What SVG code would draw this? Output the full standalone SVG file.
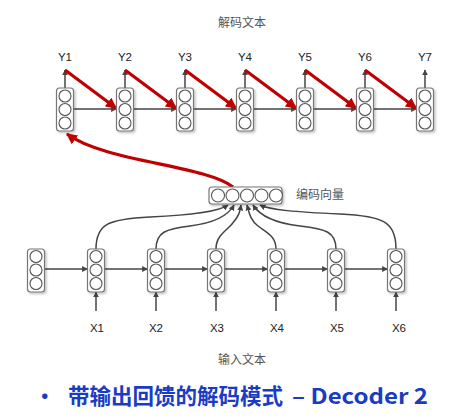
<svg xmlns="http://www.w3.org/2000/svg" width="474" height="420" viewBox="0 0 474 420">
<defs>
<marker id="ab" viewBox="0 0 10 10" refX="9" refY="5" markerWidth="6" markerHeight="6" orient="auto" markerUnits="userSpaceOnUse"><path d="M0,0 L10,5 L0,10 z" fill="#444"/></marker>
<marker id="ar" viewBox="0 0 10 10" refX="9" refY="5" markerWidth="11" markerHeight="11" orient="auto" markerUnits="userSpaceOnUse"><path d="M0,0 L10,5 L0,10 z" fill="#c00000"/></marker>
<filter id="sh" x="-30%" y="-30%" width="160%" height="160%"><feDropShadow dx="1.5" dy="1.5" stdDeviation="1" flood-color="#000" flood-opacity="0.25"/></filter>
</defs>
<style>
.nd{fill:#fff;stroke:#777;stroke-width:1.2;filter:url(#sh)}
.c{fill:#fff;stroke:#555;stroke-width:1.1}
.bl{fill:none;stroke:#444;stroke-width:1.5;marker-end:url(#ab)}
.rd{fill:none;stroke:#c00000;stroke-width:3.2;marker-end:url(#ar)}
.lb{font-family:"Liberation Sans",Arial,sans-serif;font-size:11.5px;fill:#222;text-anchor:middle}
.cap{font-family:"Noto Sans CJK SC",sans-serif;font-size:12px;fill:#555;text-anchor:middle}
.ttl{font-family:"Noto Sans CJK SC",sans-serif;font-size:21.5px;font-weight:bold;fill:#1a3cc4}
</style>
<rect width="474" height="420" fill="#fff"/>
<text class="cap" x="242" y="27">解码文本</text>
<text class="cap" x="320" y="199">编码向量</text>
<text class="cap" x="242" y="364">输入文本</text>
<text class="ttl" x="34" y="404">•</text>
<text class="ttl" x="68" y="404">带输出回馈的解码模式 <tspan x="292" textLength="136" lengthAdjust="spacingAndGlyphs">– Decoder 2</tspan></text>
<g id="labels">
<text class="lb" x="65" y="61">Y1</text><text class="lb" x="125" y="61">Y2</text><text class="lb" x="185" y="61">Y3</text><text class="lb" x="245" y="61">Y4</text><text class="lb" x="305" y="61">Y5</text><text class="lb" x="365" y="61">Y6</text><text class="lb" x="425" y="61">Y7</text>
<text class="lb" x="97" y="332">X1</text><text class="lb" x="156" y="332">X2</text><text class="lb" x="217" y="332">X3</text><text class="lb" x="277" y="332">X4</text><text class="lb" x="337" y="332">X5</text><text class="lb" x="399" y="332">X6</text>
</g>
<g id="connectors">
<path class="bl" d="M65,88 V70"/><path class="bl" d="M125,88 V70"/><path class="bl" d="M185,88 V70"/><path class="bl" d="M245,88 V70"/><path class="bl" d="M305,88 V70"/><path class="bl" d="M365,88 V70"/><path class="bl" d="M425,88 V70"/>
<path class="bl" d="M73.5,109 H116.5"/><path class="bl" d="M133.5,109 H176.5"/><path class="bl" d="M193.5,109 H236.5"/><path class="bl" d="M253.5,109 H296.5"/><path class="bl" d="M313.5,109 H356.5"/><path class="bl" d="M373.5,109 H416.5"/>
<path class="bl" d="M44.5,269 H87.5"/><path class="bl" d="M104.5,269 H147.5"/><path class="bl" d="M164.5,269 H207.5"/><path class="bl" d="M224.5,269 H267.5"/><path class="bl" d="M284.5,269 H327.5"/><path class="bl" d="M344.5,269 H387.5"/>
<path class="bl" d="M96,311 V292"/><path class="bl" d="M156,311 V292"/><path class="bl" d="M216,311 V292"/><path class="bl" d="M276,311 V292"/><path class="bl" d="M336,311 V292"/><path class="bl" d="M396,311 V292"/>
<path class="bl" d="M96,249 C96,224 108,219 150,217 S218,212 228,205"/>
<path class="bl" d="M156,249 C156,232 166,229 190,226 S228,216 234,205"/>
<path class="bl" d="M216,249 C216,236 225,232 232,224 S240,212 241,205"/>
<path class="bl" d="M276,249 C276,236 266,232 258,226 S249,212 247,205"/>
<path class="bl" d="M336,249 C336,232 326,229 300,226 S260,216 253,205"/>
<path class="bl" d="M396,249 C396,222 384,216 340,214 S270,210 260,205"/>
<path class="rd" d="M65,70 L116,108"/><path class="rd" d="M125,70 L176,108"/><path class="rd" d="M185,70 L236,108"/><path class="rd" d="M245,70 L296,108"/><path class="rd" d="M305,70 L356,108"/><path class="rd" d="M365,70 L416,108"/>
<path class="rd" d="M233,187 C205,165 105,162 67,134"/>
</g>
<g id="dec1"><rect class="nd" x="56.5" y="88" width="17" height="43" rx="3"/><circle class="c" cx="65" cy="96" r="6"/><circle class="c" cx="65" cy="109.5" r="6"/><circle class="c" cx="65" cy="123" r="6"/></g>
<g id="dec2"><rect class="nd" x="116.5" y="88" width="17" height="43" rx="3"/><circle class="c" cx="125" cy="96" r="6"/><circle class="c" cx="125" cy="109.5" r="6"/><circle class="c" cx="125" cy="123" r="6"/></g>
<g id="dec3"><rect class="nd" x="176.5" y="88" width="17" height="43" rx="3"/><circle class="c" cx="185" cy="96" r="6"/><circle class="c" cx="185" cy="109.5" r="6"/><circle class="c" cx="185" cy="123" r="6"/></g>
<g id="dec4"><rect class="nd" x="236.5" y="88" width="17" height="43" rx="3"/><circle class="c" cx="245" cy="96" r="6"/><circle class="c" cx="245" cy="109.5" r="6"/><circle class="c" cx="245" cy="123" r="6"/></g>
<g id="dec5"><rect class="nd" x="296.5" y="88" width="17" height="43" rx="3"/><circle class="c" cx="305" cy="96" r="6"/><circle class="c" cx="305" cy="109.5" r="6"/><circle class="c" cx="305" cy="123" r="6"/></g>
<g id="dec6"><rect class="nd" x="356.5" y="88" width="17" height="43" rx="3"/><circle class="c" cx="365" cy="96" r="6"/><circle class="c" cx="365" cy="109.5" r="6"/><circle class="c" cx="365" cy="123" r="6"/></g>
<g id="dec7"><rect class="nd" x="416.5" y="88" width="17" height="43" rx="3"/><circle class="c" cx="425" cy="96" r="6"/><circle class="c" cx="425" cy="109.5" r="6"/><circle class="c" cx="425" cy="123" r="6"/></g>
<g id="vector"><rect class="nd" x="209" y="187" width="73" height="17" rx="3"/><circle class="c" cx="218" cy="195.5" r="6.5"/><circle class="c" cx="232.5" cy="195.5" r="6.5"/><circle class="c" cx="247" cy="195.5" r="6.5"/><circle class="c" cx="261.5" cy="195.5" r="6.5"/><circle class="c" cx="276" cy="195.5" r="6.5"/></g>
<g id="enc0"><rect class="nd" x="27.5" y="249" width="17" height="43" rx="3"/><circle class="c" cx="36" cy="256.5" r="6"/><circle class="c" cx="36" cy="270" r="6"/><circle class="c" cx="36" cy="283.5" r="6"/></g>
<g id="enc1"><rect class="nd" x="87.5" y="249" width="17" height="43" rx="3"/><circle class="c" cx="96" cy="256.5" r="6"/><circle class="c" cx="96" cy="270" r="6"/><circle class="c" cx="96" cy="283.5" r="6"/></g>
<g id="enc2"><rect class="nd" x="147.5" y="249" width="17" height="43" rx="3"/><circle class="c" cx="156" cy="256.5" r="6"/><circle class="c" cx="156" cy="270" r="6"/><circle class="c" cx="156" cy="283.5" r="6"/></g>
<g id="enc3"><rect class="nd" x="207.5" y="249" width="17" height="43" rx="3"/><circle class="c" cx="216" cy="256.5" r="6"/><circle class="c" cx="216" cy="270" r="6"/><circle class="c" cx="216" cy="283.5" r="6"/></g>
<g id="enc4"><rect class="nd" x="267.5" y="249" width="17" height="43" rx="3"/><circle class="c" cx="276" cy="256.5" r="6"/><circle class="c" cx="276" cy="270" r="6"/><circle class="c" cx="276" cy="283.5" r="6"/></g>
<g id="enc5"><rect class="nd" x="327.5" y="249" width="17" height="43" rx="3"/><circle class="c" cx="336" cy="256.5" r="6"/><circle class="c" cx="336" cy="270" r="6"/><circle class="c" cx="336" cy="283.5" r="6"/></g>
<g id="enc6"><rect class="nd" x="387.5" y="249" width="17" height="43" rx="3"/><circle class="c" cx="396" cy="256.5" r="6"/><circle class="c" cx="396" cy="270" r="6"/><circle class="c" cx="396" cy="283.5" r="6"/></g>
</svg>
